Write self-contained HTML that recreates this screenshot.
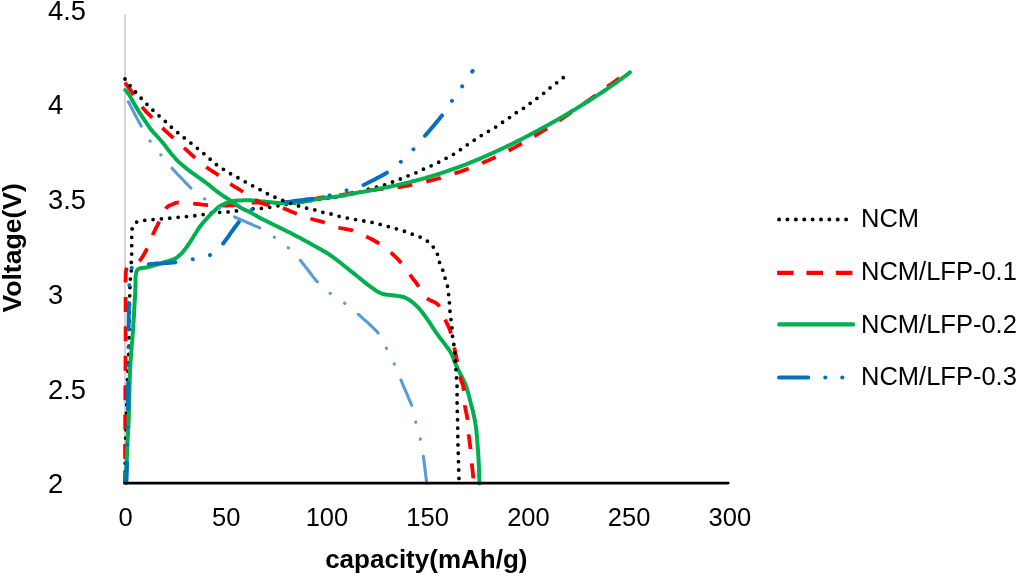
<!DOCTYPE html>
<html><head><meta charset="utf-8"><style>
html,body{margin:0;padding:0;background:#fff;}
body{width:1020px;height:577px;overflow:hidden;}
svg{display:block;}
.ax{font-family:"Liberation Sans",Arial,sans-serif;font-size:27.3px;fill:#000;}
.xl{font-family:"Liberation Sans",Arial,sans-serif;font-size:25.5px;fill:#000;}
.lg{font-family:"Liberation Sans",Arial,sans-serif;font-size:25.5px;fill:#000;}
.tt{font-family:"Liberation Sans",Arial,sans-serif;font-size:26px;font-weight:bold;fill:#000;}
</style></head><body>
<svg width="1020" height="577" viewBox="0 0 1020 577">
<rect width="1020" height="577" fill="#fff"/>
<line x1="125" y1="14.5" x2="125" y2="483.1" stroke="#d4d4d4" stroke-width="2"/>
<g class="ax"><text x="48" y="19.7">4.5</text><text x="48" y="114.4">4</text><text x="48" y="209.2">3.5</text><text x="48" y="303.9">3</text><text x="48" y="398.7">2.5</text><text x="48" y="493.4">2</text></g>
<g class="xl" text-anchor="middle"><text x="125.5" y="525.5">0</text><text x="226.2" y="525.5">50</text><text x="326.9" y="525.5">100</text><text x="427.6" y="525.5">150</text><text x="528.4" y="525.5">200</text><text x="629.1" y="525.5">250</text><text x="729.8" y="525.5">300</text></g>
<text class="tt" transform="translate(21.3,247.8) rotate(-90)" text-anchor="middle" style="font-size:26.6px" >Voltage(V)</text>
<text class="tt" x="426.3" y="568" text-anchor="middle" >capacity(mAh/g)</text>
<path d="M125.0,483.0 125.0,481.9 125.0,480.5 125.1,478.9 125.1,477.2 125.1,475.2 125.1,473.2 125.2,471.0 125.2,468.7 125.2,466.4 125.2,464.0 125.3,461.5 125.3,459.1 125.3,456.6 125.4,454.2 125.4,451.9 125.4,449.6 125.5,447.4 125.5,445.3 125.5,443.4 125.6,441.6 125.6,440.0 125.7,437.2 125.7,434.8 125.8,432.9 125.8,431.3 125.9,429.8 125.9,428.3 126.0,426.7 126.0,424.9 126.1,422.7 126.2,420.0 126.2,418.4 126.3,416.8 126.4,415.0 126.4,413.1 126.5,411.2 126.5,409.2 126.6,407.1 126.7,405.0 126.7,402.8 126.8,400.6 126.9,398.4 126.9,396.2 127.0,394.1 127.1,391.9 127.2,389.8 127.2,387.7 127.3,385.6 127.4,383.7 127.4,381.8 127.5,380.0 127.6,377.8 127.7,375.7 127.8,373.7 127.9,371.8 128.0,370.0 128.0,368.2 128.1,366.5 128.2,364.7 128.3,363.0 128.4,361.1 128.5,359.2 128.6,357.1 128.7,354.9 128.7,352.6 128.8,350.0 128.8,348.3 128.9,346.6 128.9,344.7 129.0,342.8 129.0,340.8 129.0,338.7 129.1,336.6 129.1,334.5 129.1,332.3 129.2,330.0 129.2,327.8 129.2,325.5 129.2,323.3 129.3,321.1 129.3,318.9 129.3,316.7 129.4,314.5 129.4,312.4 129.4,310.4 129.4,308.5 129.5,306.6 129.5,304.8 129.5,303.1 129.6,301.5 129.6,300.0 129.7,296.7 129.8,293.8 129.8,291.2 129.9,289.0 130.0,287.0 130.1,285.2 130.2,283.6 130.2,282.1 130.3,280.7 130.4,279.2 130.6,276.2 130.9,274.2 131.1,272.5 131.3,270.7 131.4,268.6 131.3,266.4 131.3,264.3 131.3,262.1 131.4,259.9 131.5,257.8 131.6,255.7 131.7,253.5 131.7,251.3 131.7,249.2 131.7,247.0 131.7,244.9 131.7,242.8 131.7,240.8 131.7,238.8 131.7,236.8 131.7,234.7 131.7,232.6 131.8,230.5 132.2,228.5 133.0,226.6 134.1,224.7 135.5,223.1 137.0,221.8 138.8,221.0 140.9,220.7 143.1,220.5 145.3,220.3 147.4,220.1 149.6,219.9 151.7,219.7 153.9,219.5 156.1,219.3 158.2,219.1 160.4,218.9 162.5,218.7 164.6,218.5 166.6,218.4 168.7,218.3 170.7,218.1 172.7,217.9 174.8,217.7 176.8,217.5 178.8,217.3 180.8,217.1 182.9,216.9 184.9,216.7 187.0,216.5 189.0,216.3 191.1,216.1 193.1,215.9 195.2,215.7 197.3,215.4 199.5,215.1 201.7,214.8 203.8,214.5 205.9,214.2 208.0,213.8 210.1,213.4 212.2,213.1 214.3,212.9 216.3,212.6 218.3,212.5 220.4,212.3 222.5,212.2 224.6,212.1 226.8,212.0 228.9,211.8 231.0,211.6 233.1,211.3 235.1,211.1 237.2,210.8 239.3,210.5 241.4,210.2 243.4,209.9 245.5,209.6 247.5,209.4 249.5,209.2 251.4,209.0 253.5,208.8 255.7,208.7 257.9,208.6 260.2,208.5 262.4,208.3 264.4,208.1 266.2,207.9 268.2,207.6 270.7,207.2 272.4,206.9 274.3,206.5 276.4,206.1 278.5,205.7 280.7,205.3 282.9,204.9 285.0,204.5 287.1,204.2 289.1,203.9 291.1,203.6 293.2,203.3 295.3,203.0 297.6,202.7 300.0,202.3 301.8,202.0 303.7,201.7 305.6,201.4 307.6,201.1 309.7,200.8 311.8,200.5 313.8,200.2 315.9,199.8 318.0,199.5 320.0,199.2 322.0,198.9 324.0,198.6 326.0,198.3 328.0,198.1 329.9,197.8 331.9,197.5 333.9,197.2 335.9,196.9 338.0,196.6 340.0,196.2 342.1,195.8 344.3,195.4 346.6,194.9 348.8,194.4 351.1,193.9 353.3,193.5 355.4,193.0 357.4,192.5 359.2,192.1 360.8,191.7 363.9,190.8 366.0,190.0 367.7,189.3 369.6,188.7 371.6,188.2 373.6,187.7 375.5,187.3 377.5,186.8 379.7,186.2 381.9,185.6 384.1,185.0 386.3,184.3 388.3,183.6 390.3,182.9 392.2,182.1 394.1,181.4 396.1,180.7 398.1,179.9 400.1,179.1 402.0,178.4 404.3,177.4 406.5,176.5 408.8,175.5 410.7,174.8 412.7,174.1 414.7,173.3 416.7,172.5 418.7,171.6 420.6,170.6 422.5,169.6 424.5,168.6 426.5,167.7 428.5,166.9 430.5,166.1 432.4,165.3 434.2,164.5 436.0,163.6 437.8,162.7 439.6,161.8 441.5,160.8 443.4,159.8 445.4,158.7 447.3,157.7 449.2,156.7 451.0,155.7 452.9,154.6 454.6,153.6 456.7,152.2 458.7,150.9 460.8,149.4 462.5,148.2 464.4,146.8 466.3,145.5 468.1,144.2 469.9,143.0 471.7,141.8 473.5,140.6 475.3,139.4 477.1,138.2 479.0,137.1 480.8,135.9 482.6,134.8 484.4,133.7 486.1,132.7 487.8,131.7 489.5,130.7 491.2,129.7 493.0,128.6 494.8,127.6 496.5,126.5 498.2,125.3 499.9,124.1 501.6,122.9 503.4,121.7 505.2,120.5 507.1,119.2 508.9,118.0 510.7,116.8 512.4,115.6 514.0,114.4 515.6,113.2 517.3,112.0 519.0,110.9 520.7,109.9 522.5,108.9 524.2,107.8 525.9,106.6 527.7,105.2 529.4,103.9 531.1,102.6 532.8,101.4 534.4,100.2 536.1,99.0 537.7,97.8 539.4,96.6 541.0,95.4 542.7,94.1 544.4,92.8 546.1,91.4 547.8,89.9 549.5,88.4 551.2,87.0 552.9,85.7 554.7,84.4 556.4,83.1 558.1,81.8 559.9,80.4 561.7,78.9 563.3,77.6 564.4,76.7" fill="none" stroke="#000000" stroke-width="3.8" stroke-dasharray="0 8.38" stroke-dashoffset="5.48" stroke-linecap="round" stroke-linejoin="round" /><path d="M125.0,483.0 125.0,481.9 125.0,480.8 125.0,479.5 125.0,478.1 125.0,476.7 125.0,475.2 125.0,473.5 125.0,471.9 125.0,470.1 125.1,468.3 125.1,466.4 125.1,464.4 125.1,462.4 125.1,460.3 125.1,458.2 125.1,456.0 125.1,453.8 125.1,451.6 125.1,449.3 125.1,447.0 125.1,444.7 125.1,442.4 125.2,440.0 125.2,437.7 125.2,435.3 125.2,432.9 125.2,430.6 125.2,428.2 125.2,425.9 125.2,423.5 125.2,421.2 125.2,418.9 125.2,416.6 125.2,414.4 125.3,412.2 125.3,410.1 125.3,407.9 125.3,405.9 125.3,403.9 125.3,401.9 125.3,400.0 125.3,397.8 125.3,395.6 125.3,393.5 125.3,391.3 125.3,389.1 125.4,386.9 125.4,384.8 125.4,382.6 125.4,380.5 125.4,378.3 125.4,376.2 125.4,374.1 125.4,372.0 125.4,369.9 125.4,367.8 125.5,365.7 125.5,363.6 125.5,361.6 125.5,359.6 125.5,357.6 125.5,355.6 125.5,353.6 125.5,351.6 125.5,349.7 125.5,347.8 125.5,345.9 125.6,344.0 125.6,342.2 125.6,340.4 125.6,338.6 125.6,336.8 125.6,335.1 125.6,333.3 125.6,331.7 125.6,330.0 125.6,327.4 125.6,324.9 125.6,322.3 125.6,319.9 125.6,317.5 125.6,315.1 125.6,312.8 125.6,310.5 125.6,308.3 125.6,306.1 125.6,304.0 125.6,301.9 125.6,300.0 125.6,298.0 125.6,296.2 125.6,294.4 125.6,292.6 125.6,291.0 125.6,289.4 125.6,287.8 125.6,286.4 125.6,285.0 125.6,281.3 125.6,278.5 125.6,276.4 125.7,274.8 125.7,273.5 125.8,272.3 126.0,271.0 126.6,268.4 127.4,266.8 128.5,265.5 131.0,264.3 134.0,263.5 135.9,262.9 137.8,262.2 139.8,260.5 140.9,259.1 142.1,257.4 143.3,255.4 144.6,253.3 145.8,251.0 146.9,248.8 147.7,247.1 148.5,245.2 149.3,243.3 150.1,241.4 150.8,239.5 151.6,237.6 152.4,235.7 153.1,234.0 154.1,231.9 155.0,230.0 155.9,228.1 156.9,226.3 157.9,224.3 158.9,222.3 159.9,220.3 160.9,218.2 161.9,215.9 163.0,213.7 164.0,211.6 165.0,209.8 166.0,208.3 168.1,206.2 170.0,205.3 172.0,204.5 174.0,203.6 175.9,202.9 178.1,202.5 180.6,202.5 183.3,202.7 186.0,203.0 188.3,203.2 190.7,203.3 193.7,203.6 195.3,203.8 197.1,204.0 199.0,204.2 201.1,204.5 203.2,204.7 205.4,204.9 207.7,205.1 209.6,205.2 211.5,205.3 213.6,205.4 215.7,205.5 217.9,205.5 220.0,205.6 222.1,205.6 224.0,205.6 225.9,205.6 228.1,205.5 230.2,205.4 232.2,205.3 234.1,205.1 236.0,204.9 238.0,204.7 240.0,204.5 242.1,204.2 244.3,203.9 246.6,203.6 248.8,203.2 251.0,202.9 253.2,202.6 255.3,202.5 257.5,202.5 259.3,202.7 261.2,202.9 263.2,203.1 265.7,203.3 269.0,203.3 270.6,203.3 272.4,203.2 274.3,203.1 276.3,203.1 278.5,203.0 280.7,202.9 283.0,202.7 285.3,202.6 287.6,202.5 289.8,202.3 292.1,202.2 294.2,202.0 296.3,201.9 298.2,201.7 300.0,201.5 302.4,201.2 304.7,200.9 306.8,200.5 308.8,200.1 310.7,199.7 312.5,199.3 314.3,198.9 316.2,198.5 318.0,198.1 320.0,197.8 322.0,197.5 324.0,197.2 326.0,197.0 328.0,196.7 330.0,196.5 332.0,196.3 334.0,196.0 336.0,195.8 338.0,195.5 340.0,195.2 342.0,194.9 344.0,194.5 346.0,194.1 348.0,193.7 350.0,193.3 352.0,192.9 354.0,192.5 356.0,192.2 358.0,191.8 360.0,191.5 362.0,191.2 364.0,190.9 366.0,190.7 368.0,190.5 370.0,190.3 372.0,190.0 374.0,189.8 376.0,189.6 378.0,189.4 380.0,189.2 382.0,189.0 384.1,188.8 386.2,188.6 388.2,188.3 390.3,188.1 392.4,187.9 394.4,187.7 396.3,187.5 398.2,187.2 400.0,187.0 402.4,186.6 404.7,186.2 406.8,185.8 408.8,185.4 410.9,185.0 412.9,184.5 415.0,184.1 417.1,183.6 419.3,183.2 421.4,182.7 423.6,182.2 425.7,181.7 427.9,181.2 430.0,180.7 432.1,180.1 434.3,179.6 436.4,179.0 438.6,178.4 440.7,177.8 442.9,177.1 445.0,176.5 447.1,175.9 449.3,175.2 451.4,174.5 453.6,173.8 455.7,173.1 457.9,172.4 460.0,171.7 461.9,171.0 463.8,170.4 465.6,169.7 467.5,169.0 469.4,168.3 471.2,167.6 473.1,166.8 475.0,166.1 476.9,165.3 478.8,164.6 480.6,163.8 482.5,162.9 484.4,162.1 486.2,161.3 488.1,160.5 490.0,159.6 491.9,158.7 493.8,157.9 495.6,157.0 497.5,156.1 499.4,155.2 501.2,154.3 503.1,153.3 505.0,152.4 506.9,151.5 508.8,150.5 510.6,149.5 512.5,148.5 514.4,147.6 516.2,146.5 518.1,145.5 520.0,144.5 521.9,143.5 523.8,142.4 525.6,141.3 527.5,140.2 529.4,139.1 531.2,138.0 533.1,136.9 535.0,135.8 536.9,134.7 538.8,133.5 540.6,132.4 542.5,131.2 544.4,130.1 546.2,128.9 548.1,127.7 550.0,126.5 551.9,125.3 553.8,124.1 555.6,122.8 557.5,121.6 559.4,120.4 561.2,119.1 563.1,117.9 565.0,116.6 566.7,115.5 568.3,114.3 570.0,113.2 571.7,112.1 573.3,110.9 575.0,109.8 576.7,108.6 578.3,107.5 580.0,106.3 581.7,105.1 583.3,104.0 585.0,102.8 586.7,101.6 588.3,100.4 590.0,99.3 591.7,98.1 593.3,96.9 595.0,95.7 596.7,94.5 598.3,93.3 600.0,92.1 601.7,90.9 603.3,89.7 605.0,88.5 606.7,87.3 608.3,86.1 610.0,84.9 611.7,83.7 613.6,82.3 615.4,81.0 617.3,79.6 619.2,78.3 620.9,77.1 622.5,75.9 623.9,74.9 625.0,74.1 628.0,72.0" fill="none" stroke="#ff0000" stroke-width="3.8" stroke-dasharray="15.0 14.4" stroke-dashoffset="5.35" stroke-linecap="butt" stroke-linejoin="round" /><path d="M125.5,483.0 125.6,481.8 125.7,480.3 125.8,478.6 125.9,476.6 126.0,474.5 126.1,472.2 126.3,469.8 126.4,467.4 126.5,465.0 126.6,463.1 126.7,461.2 126.8,459.1 126.9,457.0 127.0,454.8 127.0,452.6 127.1,450.4 127.2,448.2 127.3,446.1 127.4,444.0 127.5,441.9 127.6,440.0 127.7,437.9 127.8,436.2 127.9,434.6 128.0,433.1 128.1,431.6 128.2,429.9 128.3,428.0 128.5,425.8 128.6,423.2 128.7,420.0 128.7,418.5 128.8,417.0 128.8,415.3 128.9,413.6 128.9,411.8 129.0,409.9 129.0,407.9 129.1,405.9 129.1,403.8 129.2,401.7 129.2,399.5 129.3,397.3 129.3,395.1 129.4,392.9 129.4,390.7 129.5,388.5 129.5,386.3 129.6,384.1 129.7,382.0 129.7,379.8 129.8,377.8 129.9,375.7 129.9,373.7 130.0,371.8 130.1,370.0 130.2,367.8 130.3,365.6 130.5,363.4 130.6,361.2 130.7,359.1 130.9,356.9 131.0,354.9 131.2,352.8 131.4,350.8 131.5,348.8 131.7,346.8 131.8,344.8 132.0,342.9 132.2,340.9 132.3,339.1 132.5,337.2 132.6,335.4 132.7,333.6 132.9,331.8 133.0,330.0 133.2,327.7 133.3,325.4 133.4,323.1 133.6,320.9 133.7,318.7 133.9,316.6 134.0,314.5 134.1,312.4 134.2,310.4 134.3,308.5 134.4,306.7 134.5,304.9 134.6,303.2 134.7,301.5 134.8,300.0 135.0,297.0 135.1,294.5 135.2,292.3 135.3,290.3 135.4,288.5 135.4,286.7 135.5,285.0 135.6,282.6 135.5,280.4 135.5,278.5 135.6,276.7 135.8,275.0 136.2,272.6 136.8,270.6 138.3,269.1 139.9,268.4 141.8,268.0 144.1,267.7 146.6,267.4 149.2,266.8 151.0,266.3 152.9,265.8 154.9,265.2 157.0,264.6 159.1,263.9 161.1,263.3 163.0,262.7 164.8,262.1 167.3,261.3 169.6,260.6 171.8,259.9 173.8,259.2 175.7,258.2 177.5,257.1 179.0,255.8 180.5,254.4 182.0,252.9 183.5,251.2 184.8,249.6 186.1,247.9 187.4,246.0 188.7,244.1 190.0,242.2 191.3,240.2 192.4,238.5 193.5,236.7 194.6,234.8 195.8,233.0 196.9,231.2 198.0,229.4 199.1,227.8 200.4,226.0 201.7,224.4 203.0,222.8 204.3,221.3 205.6,219.8 206.9,218.4 208.5,216.7 210.1,215.0 211.7,213.4 213.2,212.0 214.7,210.6 216.7,208.7 218.5,207.1 220.8,205.6 222.6,204.7 224.7,203.7 226.8,202.8 229.1,202.0 231.2,201.4 233.3,201.0 235.4,200.7 237.4,200.6 239.5,200.5 241.6,200.4 243.7,200.3 245.8,200.3 247.8,200.3 249.9,200.3 252.0,200.4 254.1,200.5 256.2,200.7 258.2,200.9 260.3,201.2 262.4,201.4 264.5,201.6 266.6,201.9 268.6,202.1 270.7,202.3 272.8,202.5 274.8,202.7 276.7,202.8 278.6,202.9 280.7,203.0 283.2,203.0 285.0,203.0 286.9,203.0 288.9,202.9 291.0,202.8 293.2,202.8 295.5,202.6 297.7,202.4 300.0,202.2 302.1,201.9 304.2,201.6 306.3,201.2 308.5,200.8 310.7,200.3 312.9,199.9 315.1,199.5 317.4,199.1 319.6,198.7 321.6,198.4 323.7,198.1 325.8,197.9 328.0,197.6 330.1,197.4 332.2,197.1 334.3,196.9 336.3,196.6 338.2,196.4 340.0,196.1 342.4,195.7 344.7,195.3 346.8,194.9 348.9,194.4 350.9,194.0 352.9,193.6 355.0,193.2 357.1,192.8 359.3,192.4 361.4,192.0 363.6,191.7 365.7,191.3 367.9,190.9 370.0,190.5 372.1,190.1 374.3,189.7 376.4,189.3 378.6,188.9 380.7,188.5 382.9,188.0 385.0,187.6 387.1,187.2 389.3,186.7 391.4,186.3 393.6,185.8 395.7,185.4 397.9,184.9 400.0,184.4 402.1,183.9 404.3,183.4 406.4,182.9 408.6,182.4 410.7,181.9 412.9,181.3 415.0,180.8 417.1,180.2 419.3,179.7 421.4,179.1 423.6,178.5 425.7,177.9 427.9,177.2 430.0,176.6 432.1,176.0 434.3,175.3 436.4,174.7 438.6,174.0 440.7,173.3 442.9,172.6 445.0,171.9 447.1,171.2 449.3,170.4 451.4,169.7 453.6,168.9 455.7,168.2 457.9,167.4 460.0,166.6 461.9,165.9 463.8,165.2 465.6,164.5 467.5,163.7 469.4,163.0 471.2,162.2 473.1,161.5 475.0,160.7 476.9,159.9 478.8,159.1 480.6,158.3 482.5,157.5 484.4,156.7 486.2,155.9 488.1,155.0 490.0,154.2 491.9,153.4 493.8,152.5 495.6,151.7 497.5,150.8 499.4,149.9 501.2,149.1 503.1,148.2 505.0,147.3 506.9,146.4 508.8,145.5 510.6,144.6 512.5,143.7 514.4,142.7 516.2,141.8 518.1,140.8 520.0,139.9 521.9,138.9 523.8,138.0 525.6,137.0 527.5,136.0 529.4,135.1 531.2,134.1 533.1,133.1 535.0,132.1 536.9,131.1 538.8,130.1 540.6,129.1 542.5,128.1 544.4,127.0 546.2,126.0 548.1,124.9 550.0,123.9 551.9,122.8 553.8,121.8 555.6,120.7 557.5,119.7 559.4,118.6 561.2,117.5 563.1,116.4 565.0,115.3 566.9,114.2 568.8,113.1 570.6,112.0 572.5,110.8 574.4,109.7 576.2,108.6 578.1,107.4 580.0,106.3 581.9,105.1 583.8,104.0 585.6,102.8 587.5,101.7 589.4,100.5 591.2,99.3 593.1,98.1 595.0,96.9 596.7,95.8 598.3,94.7 600.0,93.6 601.7,92.5 603.3,91.4 605.0,90.3 606.7,89.2 608.3,88.0 610.0,86.9 611.7,85.7 613.5,84.4 615.4,83.1 617.2,81.8 619.0,80.5 620.7,79.3 622.3,78.1 623.8,77.1 625.0,76.2 627.6,74.3 629.0,73.1 629.9,72.3" fill="none" stroke="#00b050" stroke-width="4.0" stroke-linecap="round" stroke-linejoin="round" /><path d="M126.3,483.0 126.3,481.9 126.4,480.7 126.5,479.3 126.6,477.7 126.6,475.8 126.7,473.7 126.8,471.2 126.9,468.3 127.0,465.0 127.0,463.5 127.1,462.0 127.1,460.4 127.1,458.8 127.2,457.1 127.2,455.4 127.3,453.5 127.3,451.7 127.3,449.8 127.4,447.8 127.4,445.8 127.4,443.7 127.5,441.5 127.5,439.3 127.6,437.1 127.6,434.8 127.6,432.5 127.7,430.1 127.7,427.6 127.7,425.1 127.8,422.6 127.8,420.0 127.8,418.3 127.8,416.6 127.9,414.8 127.9,413.0 127.9,411.1 127.9,409.2 127.9,407.3 128.0,405.3 128.0,403.3 128.0,401.2 128.0,399.2 128.0,397.1 128.0,395.0 128.1,392.8 128.1,390.7 128.1,388.5 128.1,386.4 128.1,384.2 128.1,382.1 128.2,379.9 128.2,377.8 128.2,375.6 128.2,373.5 128.2,371.4 128.2,369.3 128.3,367.2 128.3,365.1 128.3,363.1 128.3,361.1 128.3,359.2 128.3,357.2 128.3,355.4 128.4,353.5 128.4,351.7 128.4,350.0 128.4,347.6 128.4,345.2 128.5,342.9 128.5,340.6 128.5,338.3 128.5,336.1 128.6,333.8 128.6,331.6 128.6,329.5 128.6,327.4 128.6,325.3 128.7,323.2 128.7,321.2 128.7,319.2 128.7,317.2 128.8,315.3 128.8,313.5 128.8,311.6 128.8,309.8 128.9,308.1 128.9,306.4 128.9,304.7 128.9,303.1 129.0,301.5 129.0,300.0 129.1,297.0 129.1,294.2 129.2,291.6 129.2,289.2 129.3,287.0 129.3,284.9 129.4,282.9 129.5,281.1 129.6,279.5 129.7,277.9 129.8,276.4 130.0,275.0 130.4,271.7 130.7,269.6 131.4,268.2 133.0,267.0 134.3,266.3 135.7,265.9 137.3,265.5 139.2,265.2 141.4,265.0 144.0,264.7 146.9,264.4 148.5,264.2 150.2,264.1 152.1,263.9 154.2,263.8 156.3,263.6 158.5,263.5 160.8,263.4 163.1,263.2 165.4,263.1 167.6,262.9 169.8,262.8 171.9,262.6 173.8,262.4 175.6,262.3 177.3,262.1 180.0,261.8 182.4,261.4 184.5,261.0 186.4,260.7 188.2,260.3 189.9,259.9 191.8,259.4 193.7,259.0 195.8,258.6 197.9,258.2 200.0,257.9 202.1,257.5 204.2,257.0 206.2,256.5 208.2,255.9 210.0,255.1 211.9,254.1 213.5,253.1 215.0,252.0 216.5,250.7 218.1,249.2 219.8,247.3 221.8,245.1 222.8,243.9 223.9,242.5 225.1,240.9 226.3,239.3 227.6,237.6 228.8,235.8 230.1,233.9 231.4,232.1 232.8,230.3 234.0,228.4 235.3,226.7 236.6,225.0 237.8,223.4 238.9,222.0 240.0,220.7 241.7,218.8 243.3,217.1 244.9,215.5 246.4,214.1 247.8,212.8 249.2,211.7 250.7,210.6 252.1,209.6 253.5,208.7 255.6,207.5 257.6,206.6 259.6,206.0 261.6,205.4 263.7,205.0 266.0,204.5 267.7,204.2 269.3,203.9 271.0,203.7 272.7,203.6 274.6,203.4 276.8,203.2 279.3,203.0 282.4,202.6 284.0,202.4 285.8,202.2 287.7,201.9 289.8,201.7 291.9,201.4 294.2,201.1 296.5,200.8 298.9,200.5 301.3,200.2 303.7,199.9 306.0,199.6 308.3,199.3 310.5,199.0 312.6,198.8 314.5,198.5 316.4,198.2 318.0,198.0 319.4,197.8 323.1,197.2 325.1,196.8 326.4,196.4 327.6,196.0 329.6,195.4 331.3,194.9 333.2,194.4 335.2,193.8 337.2,193.2 339.3,192.5 341.4,191.9 343.5,191.2 345.6,190.6 347.6,190.1 349.4,189.6 351.3,189.2 353.1,188.7 355.1,188.2 357.1,187.5 359.4,186.7 361.9,185.7 363.5,185.0 365.2,184.2 367.1,183.3 369.0,182.3 371.0,181.3 373.1,180.3 375.1,179.2 377.2,178.1 379.2,177.1 381.2,176.0 383.0,174.9 384.8,173.9 386.4,173.0 387.9,172.1 390.1,170.7 392.0,169.4 393.7,168.1 395.2,166.9 396.5,165.7 397.9,164.5 399.2,163.2 400.7,161.9 402.3,160.5 403.8,159.0 405.4,157.5 406.9,156.0 408.4,154.5 410.0,152.9 411.4,151.3 412.9,149.8 414.3,148.3 415.5,146.9 416.7,145.6 417.9,144.2 419.2,142.7 420.5,141.1 422.1,139.3 423.8,137.2 424.9,135.9 426.2,134.4 427.5,132.9 428.9,131.2 430.4,129.5 431.9,127.7 433.4,126.0 434.9,124.2 436.3,122.4 437.8,120.7 439.2,119.0 440.4,117.4 441.6,116.0 442.7,114.6 444.3,112.5 445.6,110.6 446.8,108.8 447.8,107.2 448.8,105.7 449.7,104.2 450.7,102.6 451.8,101.0 453.0,99.3 454.2,97.6 455.4,95.9 456.7,94.2 457.9,92.4 459.1,90.7 460.4,89.0 461.6,87.2 462.9,85.3 464.3,83.3 465.7,81.3 467.0,79.2 468.4,77.2 469.6,75.4 470.6,73.9 471.4,72.7 472.6,71.0" fill="none" stroke="#0070c0" stroke-width="4.0" stroke-dasharray="26.50 17.75 0.01 17.75 0.01 17.75" stroke-dashoffset="5.98" stroke-linecap="round" stroke-linejoin="round" /><path d="M125.0,91.0 124.8,91.8 124.7,93.2 126.2,97.4 126.8,98.6 127.5,100.0 128.2,101.6 129.1,103.3 130.1,105.1 131.1,107.1 132.1,109.1 133.2,111.1 134.3,113.2 135.4,115.3 136.5,117.4 137.6,119.4 138.7,121.4 139.7,123.2 140.6,124.9 141.4,126.5 142.2,127.9 143.8,130.7 145.0,133.0 146.1,134.9 147.1,136.6 148.1,138.2 149.2,139.8 150.4,141.6 151.6,143.3 152.9,145.1 154.3,146.8 155.7,148.6 157.1,150.3 158.5,152.0 159.9,153.7 161.2,155.3 162.6,157.0 163.7,158.5 164.9,159.9 166.0,161.4 167.4,163.0 169.0,164.9 171.0,167.1 172.1,168.3 173.3,169.7 174.7,171.1 176.1,172.7 177.6,174.3 179.2,175.9 180.8,177.6 182.4,179.3 184.0,181.0 185.5,182.6 187.1,184.2 188.6,185.7 190.0,187.2 191.3,188.4 192.5,189.6 194.5,191.4 196.3,193.0 197.9,194.3 199.4,195.4 200.8,196.4 202.2,197.3 203.7,198.3 205.3,199.4 207.0,200.5 208.6,201.6 210.3,202.7 212.0,203.8 213.8,204.8 215.5,205.9 217.2,206.9 219.0,208.0 220.7,209.0 222.3,210.0 223.8,211.0 225.4,212.0 227.1,213.0 229.0,214.0 231.2,215.2 233.6,216.4 235.1,217.1 236.7,217.9 238.5,218.7 240.4,219.5 242.3,220.3 244.3,221.2 246.4,222.1 248.4,223.0 250.5,223.8 252.5,224.7 254.4,225.6 256.3,226.4 258.0,227.2 259.6,228.0 261.1,228.7 263.5,230.0 265.5,231.1 267.3,232.2 268.8,233.3 270.3,234.3 271.7,235.4 273.2,236.4 274.8,237.6 276.5,238.8 278.2,240.0 279.9,241.3 281.7,242.5 283.3,243.8 285.0,245.1 286.6,246.5 288.2,247.8 289.9,249.3 291.3,250.6 292.8,252.0 294.2,253.4 295.7,255.0 297.4,256.9 299.4,259.2 300.5,260.5 301.7,262.0 303.0,263.7 304.4,265.4 305.8,267.3 307.3,269.1 308.7,271.0 310.2,273.0 311.6,274.8 313.0,276.6 314.4,278.4 315.7,280.0 316.9,281.4 318.0,282.7 319.9,284.8 321.6,286.5 323.1,287.8 324.4,289.0 325.8,290.1 327.3,291.2 329.0,292.5 330.7,293.7 332.4,295.0 334.2,296.2 336.1,297.5 338.0,298.7 339.9,300.0 341.7,301.2 343.5,302.5 345.2,303.7 346.7,304.9 348.2,306.0 349.8,307.2 351.3,308.4 353.0,309.8 354.8,311.3 356.9,313.1 358.2,314.3 359.7,315.5 361.2,316.9 362.8,318.3 364.5,319.8 366.3,321.4 368.0,322.9 369.7,324.5 371.4,326.1 373.0,327.6 374.5,329.2 376.0,330.6 377.3,332.0 378.4,333.3 380.0,335.4 381.3,337.3 382.4,339.2 383.2,341.0 383.9,342.7 384.7,344.4 385.4,346.2 386.3,348.0 387.3,349.9 388.3,351.8 389.3,353.7 390.3,355.7 391.2,357.6 392.2,359.5 393.1,361.4 394.0,363.3 394.9,365.3 395.7,367.1 396.4,368.8 397.1,370.7 397.9,372.7 398.8,375.1 400.0,377.9 400.7,379.4 401.4,381.2 402.2,383.0 403.0,385.0 403.9,387.0 404.8,389.2 405.8,391.3 406.7,393.5 407.6,395.7 408.5,397.8 409.4,399.9 410.2,401.8 411.0,403.7 411.6,405.4 412.2,407.0 413.2,409.9 413.8,412.3 414.3,414.5 414.7,416.4 415.0,418.3 415.3,420.2 415.8,422.3 416.3,424.3 416.9,426.3 417.5,428.4 418.0,430.4 418.6,432.5 419.2,434.5 419.7,436.6 420.2,438.6 420.6,440.5 421.0,442.3 421.4,444.0 421.7,445.7 422.0,447.5 422.4,449.5 422.7,451.8 423.1,454.4 423.3,456.1 423.6,458.1 423.9,460.3 424.2,462.6 424.5,465.0 424.8,467.5 425.1,469.9 425.4,472.4 425.7,474.7 425.9,476.9 426.2,478.9 426.4,480.8 426.6,482.3 426.7,483.5" fill="none" stroke="#5b9bd5" stroke-width="3.1" stroke-dasharray="27.40 17.26 0.30 17.26 0.30 17.26" stroke-dashoffset="68.07" stroke-linecap="round" stroke-linejoin="round" /><path d="M125.3,90.0 126.8,91.6 129.0,94.5 129.9,95.9 130.8,97.6 131.8,99.5 132.9,101.4 133.9,103.3 134.9,105.0 136.0,106.9 137.1,108.7 138.2,110.5 139.3,112.3 140.4,114.0 141.5,115.7 142.7,117.4 143.8,119.1 144.9,120.7 146.0,122.3 147.2,124.2 148.4,125.9 149.6,127.6 150.8,129.3 152.2,130.9 153.6,132.6 155.1,134.1 156.4,135.5 157.9,137.1 159.1,138.5 160.5,140.0 161.9,141.7 163.5,143.6 165.2,145.8 166.4,147.4 167.8,149.2 169.2,151.0 170.6,152.9 172.0,154.6 173.4,156.2 174.8,157.8 176.2,159.3 177.6,160.8 179.0,162.2 180.8,163.8 182.5,165.3 184.2,166.7 186.0,168.1 187.8,169.5 189.5,170.8 191.2,172.1 193.0,173.4 194.8,174.6 196.5,175.9 198.2,177.1 200.0,178.3 201.8,179.6 203.5,180.9 205.2,182.2 207.0,183.5 208.8,184.9 210.5,186.3 212.2,187.7 214.0,189.1 215.8,190.5 217.5,191.8 219.2,193.1 221.0,194.4 222.8,195.6 224.5,196.7 226.2,197.8 228.0,199.0 229.8,200.2 231.5,201.5 233.2,202.8 235.0,204.0 236.8,205.2 238.5,206.3 240.2,207.4 242.0,208.4 244.3,209.6 246.7,210.6 249.0,211.7 250.8,212.6 252.5,213.6 254.2,214.6 256.0,215.6 258.3,216.9 260.7,218.2 263.0,219.4 265.3,220.6 267.7,221.8 270.0,222.9 272.3,224.0 274.7,225.2 277.0,226.3 279.3,227.5 281.7,228.6 284.0,229.8 286.3,231.0 288.7,232.1 291.0,233.3 293.3,234.5 295.7,235.7 298.0,236.9 300.2,238.1 302.4,239.3 305.0,240.7 306.6,241.6 308.3,242.5 310.1,243.5 312.0,244.6 314.0,245.7 316.0,246.8 317.8,247.8 319.6,248.8 321.4,249.8 323.3,250.9 325.2,252.0 327.1,253.1 329.0,254.3 330.6,255.4 332.2,256.6 333.9,257.7 335.5,259.0 337.1,260.2 338.8,261.5 340.4,262.7 342.0,264.0 343.6,265.3 345.2,266.6 346.9,267.8 348.5,269.2 350.1,270.5 351.8,271.8 353.4,273.1 355.0,274.4 356.6,275.7 358.2,277.0 359.9,278.4 361.5,279.7 363.1,281.0 364.8,282.3 366.4,283.6 368.0,284.8 369.9,286.2 371.7,287.6 373.6,288.9 375.4,290.2 377.3,291.4 379.1,292.4 381.0,293.3 383.2,294.0 385.4,294.5 387.6,294.8 389.8,295.0 392.0,295.2 394.1,295.5 396.1,295.8 398.1,296.1 400.1,296.3 402.0,296.7 404.0,297.2 405.9,298.0 407.6,298.9 409.3,300.0 411.0,301.1 412.7,302.5 414.4,303.9 416.0,305.4 417.6,306.9 419.0,308.3 420.3,309.9 421.6,311.5 422.9,313.2 424.2,314.9 425.4,316.7 426.6,318.4 427.8,320.0 429.1,321.8 430.3,323.7 431.5,325.5 432.6,327.3 433.8,329.0 434.9,330.8 436.1,332.5 437.5,334.4 438.9,336.4 440.3,338.2 441.7,340.1 443.1,341.8 444.4,343.6 445.9,345.6 447.3,347.5 448.7,349.4 450.0,351.3 451.2,353.3 452.2,355.4 453.1,357.6 453.9,359.9 454.8,362.2 455.7,364.4 456.6,366.3 457.5,368.2 458.4,370.1 459.4,372.0 460.3,373.8 461.1,375.5 462.2,377.7 463.2,379.6 464.2,381.6 465.2,384.0 465.8,385.6 466.3,387.2 466.9,388.9 467.5,390.8 468.1,392.8 468.7,395.1 469.4,397.7 469.8,399.4 470.3,401.2 470.8,403.2 471.4,405.3 471.9,407.4 472.5,409.6 473.0,411.8 473.5,414.1 474.0,416.3 474.5,418.5 474.9,420.7 475.3,422.8 475.6,424.9 475.9,427.0 476.2,429.0 476.4,431.1 476.6,433.2 476.8,435.3 477.0,437.4 477.1,439.4 477.3,441.4 477.4,443.3 477.6,445.2 477.7,447.1 477.9,449.5 478.1,451.8 478.2,454.0 478.4,456.2 478.5,458.3 478.6,460.4 478.7,462.4 478.8,464.5 478.9,466.5 479.0,468.9 479.1,471.3 479.2,473.8 479.2,476.2 479.3,478.5 479.3,480.5 479.4,482.2 479.4,483.5" fill="none" stroke="#00b050" stroke-width="4.0" stroke-linecap="round" stroke-linejoin="round" /><path d="M125.0,82.8 125.8,83.8 126.8,85.2 128.1,86.9 129.5,88.7 130.9,90.6 132.3,92.5 133.6,94.3 134.8,96.1 136.0,97.9 137.2,99.8 138.4,101.7 139.7,103.6 140.9,105.4 142.2,107.1 143.5,108.7 144.9,110.2 146.2,111.7 147.6,113.2 149.1,114.6 150.5,116.0 151.9,117.5 153.3,119.0 154.8,120.5 156.3,121.9 157.7,123.4 159.2,124.9 160.7,126.4 162.2,127.8 163.7,129.2 165.2,130.6 166.8,132.0 168.3,133.4 169.8,134.8 171.4,136.2 172.9,137.6 174.4,139.0 176.0,140.4 177.5,141.8 179.1,143.3 180.6,144.7 182.2,146.1 183.7,147.5 185.2,148.9 186.8,150.3 188.3,151.7 189.8,153.1 191.3,154.5 192.9,155.9 194.5,157.3 196.1,158.7 197.8,160.2 199.5,161.6 201.2,163.0 202.9,164.4 204.6,165.8 206.3,167.1 208.0,168.3 209.6,169.4 211.3,170.5 212.9,171.6 214.6,172.6 216.3,173.7 218.0,174.9 219.7,176.1 221.5,177.4 223.3,178.8 225.1,180.1 226.9,181.5 228.7,182.8 230.5,184.0 232.2,185.2 234.0,186.3 235.7,187.4 237.5,188.4 239.2,189.5 240.8,190.5 242.5,191.6 244.3,192.9 246.1,194.2 247.8,195.5 249.6,196.8 251.4,198.0 253.5,199.2 255.2,200.1 257.1,200.9 259.0,201.8 261.0,202.7 263.0,203.4 264.9,204.2 266.8,204.8 268.6,205.4 270.8,205.9 272.8,206.2 274.8,206.4 276.8,206.6 278.8,206.9 281.0,207.4 282.8,208.0 284.6,208.7 286.5,209.5 288.4,210.3 290.3,211.2 292.3,212.0 294.2,212.8 296.1,213.6 298.3,214.4 300.4,215.2 302.6,216.0 304.7,216.7 306.9,217.5 309.0,218.1 311.0,218.8 313.3,219.5 315.5,220.1 317.7,220.7 319.9,221.2 322.1,221.8 324.3,222.5 326.3,223.2 328.2,223.9 330.2,224.7 332.2,225.4 334.2,226.2 336.2,226.9 338.2,227.5 340.2,228.0 342.2,228.4 344.1,228.7 346.1,229.1 348.1,229.4 350.0,229.8 352.0,230.4 354.0,231.1 356.0,231.8 357.9,232.7 359.9,233.6 361.9,234.5 363.8,235.4 365.7,236.3 367.6,237.2 369.4,238.1 371.3,239.0 373.1,240.0 374.9,241.0 376.6,242.0 378.4,243.1 380.1,244.2 381.9,245.4 383.6,246.7 385.3,247.9 386.9,249.3 388.6,250.6 390.2,252.0 391.8,253.4 393.4,254.9 395.0,256.4 396.6,257.9 398.1,259.5 399.6,261.1 401.0,262.7 402.4,264.3 403.7,266.0 404.9,267.7 406.1,269.4 407.3,271.1 408.6,272.8 409.8,274.5 411.1,276.2 412.3,277.9 413.6,279.6 414.9,281.2 416.2,282.9 417.4,284.6 418.6,286.3 419.7,288.0 420.8,289.8 421.8,291.6 422.9,293.3 424.0,295.0 425.2,296.6 426.5,298.0 428.3,299.3 430.3,300.4 432.4,301.3 434.5,302.2 436.5,303.4 438.2,304.9 439.3,306.4 440.3,308.1 441.2,310.0 442.1,312.0 442.9,314.0 443.6,316.0 444.4,317.9 445.1,319.6 446.2,321.9 447.3,324.0 448.2,325.9 449.1,328.0 450.0,330.4 450.5,332.1 451.1,334.0 451.6,336.0 452.1,338.1 452.5,340.1 453.0,342.2 453.5,344.2 453.9,346.1 454.4,348.1 454.8,350.0 455.2,351.8 455.6,353.6 456.0,355.5 456.4,357.6 456.9,359.8 457.3,361.8 457.7,363.9 458.2,366.3 458.6,368.7 459.1,371.0 459.5,373.3 459.9,375.5 460.3,377.5 460.7,379.1 461.7,382.0 462.5,383.5 463.2,386.4 463.4,388.1 463.6,390.0 463.8,392.2 464.0,394.6 464.1,397.0 464.3,399.4 464.5,401.7 464.7,403.9 464.9,405.8 465.3,408.2 465.7,410.2 466.1,412.1 466.5,413.8 466.9,415.8 467.3,418.0 467.5,419.9 467.7,422.0 467.9,424.2 468.0,426.4 468.2,428.7 468.4,430.9 468.5,433.0 468.7,435.0 469.0,437.4 469.3,439.7 469.6,441.8 469.9,443.9 470.1,446.1 470.4,448.3 470.6,450.3 470.8,452.4 471.0,454.5 471.1,456.6 471.3,458.7 471.5,460.8 471.7,462.9 471.9,465.1 472.2,467.3 472.4,469.6 472.7,471.8 472.9,473.9 473.1,475.8 473.3,477.4 473.5,481.1 473.5,483.0" fill="none" stroke="#ff0000" stroke-width="3.8" stroke-dasharray="15.0 14.4" stroke-dashoffset="0.00" stroke-linecap="butt" stroke-linejoin="round" /><path d="M125.0,79.0 125.9,80.2 127.2,81.9 128.6,83.8 130.0,85.6 131.3,87.2 132.7,88.8 134.1,90.3 135.5,91.9 136.9,93.5 138.2,95.0 139.6,96.5 141.0,98.1 142.5,99.7 144.0,101.3 145.5,102.9 147.0,104.4 148.5,105.9 149.9,107.3 151.4,108.8 152.9,110.2 154.4,111.6 156.0,113.1 157.5,114.5 159.1,115.9 160.7,117.3 162.2,118.6 163.8,120.0 165.3,121.4 166.8,122.8 168.3,124.3 169.8,125.8 171.3,127.2 172.9,128.6 174.5,130.0 176.2,131.3 177.8,132.7 179.4,134.0 181.0,135.4 182.7,136.7 184.3,138.0 186.0,139.3 187.7,140.6 189.3,141.8 191.0,143.1 192.6,144.4 194.3,145.7 195.9,147.1 197.5,148.4 199.1,149.7 200.7,151.0 202.3,152.4 203.9,153.7 205.5,155.1 207.1,156.4 208.6,157.8 210.2,159.2 211.8,160.6 213.3,162.0 214.9,163.4 216.5,164.7 218.2,165.9 219.9,167.1 221.7,168.3 223.5,169.4 225.3,170.6 227.1,171.7 229.0,172.8 230.8,173.9 232.6,174.9 234.4,175.9 236.2,176.8 238.0,177.8 239.8,178.8 241.5,179.8 243.3,180.8 245.1,181.8 246.9,182.8 248.7,183.8 250.5,184.7 252.4,185.7 254.3,186.7 256.2,187.6 258.1,188.6 260.0,189.6 261.8,190.6 263.7,191.7 265.5,192.7 267.3,193.7 269.2,194.6 271.0,195.5 272.9,196.4 274.8,197.2 276.7,198.0 278.6,198.8 280.5,199.5 282.4,200.3 284.4,201.1 286.5,201.8 288.6,202.6 290.6,203.3 293.1,204.2 295.6,205.0 298.1,205.8 300.1,206.4 302.2,207.0 304.3,207.6 306.4,208.1 308.5,208.6 310.5,209.0 312.6,209.4 314.6,209.9 316.6,210.5 318.7,211.1 320.7,211.7 322.8,212.3 324.9,212.8 327.0,213.2 329.0,213.5 331.1,214.0 333.1,214.5 335.1,215.1 337.1,215.7 339.2,216.3 341.4,216.8 343.6,217.3 345.8,217.8 348.0,218.2 350.0,218.6 352.0,218.9 354.0,219.3 355.9,219.6 358.5,220.1 361.1,220.5 363.7,221.0 365.8,221.4 367.9,221.7 370.1,222.1 372.2,222.5 374.3,223.0 376.3,223.5 378.4,224.0 380.4,224.5 382.4,225.0 384.3,225.5 386.3,226.0 388.2,226.5 390.1,227.0 392.1,227.6 394.1,228.2 396.1,228.8 398.3,229.4 400.5,230.1 402.7,230.7 404.9,231.4 406.9,232.1 408.9,232.8 410.8,233.6 412.7,234.3 414.7,235.0 416.7,235.7 418.7,236.5 420.6,237.3 423.0,238.5 425.3,239.7 427.5,241.2 429.1,242.5 430.6,244.0 432.0,245.5 433.3,247.1 434.8,249.2 436.2,251.5 437.3,253.9 438.0,256.0 438.5,258.3 439.0,260.6 439.6,262.7 440.6,265.2 441.7,267.5 442.7,270.0 443.3,272.0 443.9,274.2 444.5,276.3 445.1,278.4 445.7,280.4 446.4,282.4 447.0,284.3 447.5,286.3 447.9,288.4 448.2,290.5 448.4,292.6 448.6,294.7 448.8,296.8 449.0,298.8 449.2,300.8 449.4,302.9 449.6,305.0 449.7,307.0 449.8,309.1 450.0,311.2 450.2,313.3 450.5,315.4 450.7,317.5 451.0,319.6 451.3,321.7 451.5,323.8 451.8,325.9 452.0,328.0 452.1,330.1 452.2,332.1 452.3,334.2 452.5,336.3 452.8,338.5 453.2,340.7 453.6,342.9 453.9,345.1 454.2,347.1 454.4,349.1 454.7,351.2 454.9,353.9 455.0,355.8 455.2,358.0 455.3,360.4 455.5,362.8 455.6,365.2 455.8,367.4 455.9,369.4 456.1,372.3 456.3,374.7 456.4,376.9 456.6,379.1 456.8,381.1 456.9,382.9 457.0,384.9 457.1,387.6 457.1,389.3 457.1,391.3 457.1,393.4 457.1,395.6 457.1,397.9 457.1,400.2 457.1,402.5 457.1,404.6 457.1,406.9 457.2,409.2 457.3,411.4 457.4,413.6 457.5,415.8 457.5,418.1 457.6,420.4 457.6,422.5 457.7,424.6 457.7,426.7 457.7,428.8 457.7,431.0 457.7,433.1 457.8,435.3 457.8,437.4 457.8,439.5 457.9,441.5 458.0,443.4 458.0,445.4 458.1,447.4 458.2,449.6 458.2,451.9 458.3,454.4 458.4,456.3 458.4,458.4 458.5,460.7 458.5,463.1 458.6,465.6 458.7,468.0 458.7,470.4 458.8,472.7 458.9,474.9 458.9,476.8 459.0,478.5 459.0,479.9 459.0,483.0" fill="none" stroke="#000000" stroke-width="3.8" stroke-dasharray="0 8.38" stroke-dashoffset="0.00" stroke-linecap="round" stroke-linejoin="round" />
<line x1="124.5" y1="483.1" x2="728.2" y2="483.1" stroke="#000" stroke-width="2.8" stroke-linecap="round"/>
<g class="lg"><path d="M777.1,219.6 H850" stroke="#000000" stroke-width="4.0" fill="none" stroke-dasharray="0 8.375" stroke-dashoffset="6.375" stroke-linecap="round"/><text x="861" y="227.2">NCM</text><path d="M777.1,272.8 H855" stroke="#ff0000" stroke-width="4.3" fill="none" stroke-dasharray="16.6 12.75" stroke-linecap="butt"/><text x="861" y="279.9">NCM/LFP-0.1</text><path d="M779.3,324.4 H853" stroke="#00b050" stroke-width="4.4" fill="none" stroke-linecap="round"/><text x="861" y="333.2">NCM/LFP-0.2</text><path d="M779.1,377.5 H853" stroke="#0070c0" stroke-width="4.2" fill="none" stroke-dasharray="29.1 17.1 0.01 17 0.01 100" stroke-linecap="round"/><text x="861" y="384.8">NCM/LFP-0.3</text></g>
</svg>
</body></html>
